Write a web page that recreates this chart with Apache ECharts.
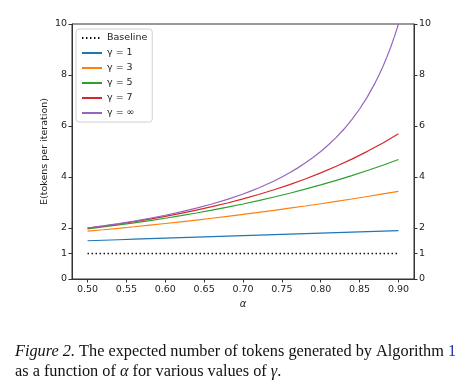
<!DOCTYPE html>
<html>
<head>
<meta charset="utf-8">
<script src="https://cdn.jsdelivr.net/npm/echarts@6/dist/echarts.min.js"></script>
<style>html,body{margin:0;padding:0;background:#fff;}#c{width:474px;height:392px;}</style>
</head>
<body>
<div id="c"></div>
<script>
var alphas = [0.50,0.52,0.54,0.56,0.58,0.60,0.62,0.64,0.66,0.68,0.70,0.72,0.74,0.76,0.78,0.80,0.82,0.84,0.86,0.88,0.90];
var baseline = [1,1,1,1,1,1,1,1,1,1,1,1,1,1,1,1,1,1,1,1,1];
var gamma1 = [1.50,1.52,1.54,1.56,1.58,1.60,1.62,1.64,1.66,1.68,1.70,1.72,1.74,1.76,1.78,1.80,1.82,1.84,1.86,1.88,1.90];
var gamma3 = [1.875,1.931,1.989,2.049,2.112,2.176,2.243,2.312,2.383,2.457,2.533,2.612,2.693,2.777,2.863,2.952,3.044,3.138,3.236,3.336,3.439];
var gamma5 = [1.969,2.042,2.120,2.203,2.290,2.383,2.482,2.587,2.698,2.816,2.941,3.074,3.215,3.364,3.522,3.689,3.867,4.054,4.253,4.463,4.686];
var gamma7 = [1.992,2.072,2.158,2.251,2.350,2.458,2.574,2.700,2.835,2.982,3.141,3.314,3.500,3.703,3.923,4.161,4.420,4.701,5.006,5.336,5.695];
var alphasInf = [0.50,0.52,0.54,0.56,0.58,0.60,0.62,0.64,0.66,0.68,0.70,0.71,0.72,0.73,0.74,0.75,0.76,0.77,0.78,0.79,0.80,0.81,0.82,0.83,0.84,0.85,0.86,0.87,0.875,0.88,0.885,0.89,0.895,0.90];
var gammaInf = [2.000,2.083,2.174,2.273,2.381,2.500,2.632,2.778,2.941,3.125,3.333,3.448,3.571,3.704,3.846,4.000,4.167,4.348,4.545,4.762,5.000,5.263,5.556,5.882,6.250,6.667,7.143,7.692,8.000,8.333,8.696,9.091,9.524,10.000];
var xTicks = [0.50,0.55,0.60,0.65,0.70,0.75,0.80,0.85,0.90];
var yTicks = [0,1,2,4,6,8,10];
var names = ['Baseline','γ = 1','γ = 3','γ = 5','γ = 7','γ = ∞'];
var colors = ['#000000','#1f77b4','#ff7f0e','#2ca02c','#d62728','#9467bd'];
var seriesData = [baseline,gamma1,gamma3,gamma5,gamma7,gammaInf];
var seriesX = [alphas,alphas,alphas,alphas,alphas,alphasInf];

function pairs(xs, arr){ return xs.map(function(a,i){ return [a, arr[i]]; }); }

var txt = '#222';
var fs = 9.5;
var font = 'DejaVu Sans';

function yAxis(pos){
  return {
    type:'value', position:pos, min:0, max:10,
    axisLine:{show:true, lineStyle:{color:'#333', width:1}},
    axisTick:{show:true, length:3.5, customValues:yTicks, lineStyle:{color:'#333'}},
    axisLabel:{customValues:yTicks, color:txt, fontSize:fs, fontFamily:font, margin:5},
    splitLine:{show:false},
    name: pos==='left' ? 'E(tokens per iteration)' : '',
    nameLocation:'middle', nameGap:22, nameRotate:90, nameMoveOverlap:false,
    nameTextStyle:{color:txt, fontSize:fs, fontFamily:font}
  };
}

var series = seriesData.map(function(d,i){
  return {
    name:names[i], type:'line', data:pairs(seriesX[i], d), symbol:'none', silent:true, animation:false,
    lineStyle:{color:colors[i], width: i===0 ? 1.4 : 1.2, type: i===0 ? [1.4,2.6] : 'solid'},
    itemStyle:{color:colors[i]}
  };
});

var option = {
  animation:false,
  grid:{left:72, right:60, top:24, bottom:113, show:true, borderColor:'#333', borderWidth:1},
  xAxis:{
    type:'value', min:0.48, max:0.92,
    axisLine:{show:true, lineStyle:{color:'#333'}},
    axisTick:{show:true, length:3.5, customValues:xTicks, lineStyle:{color:'#333'}},
    axisLabel:{customValues:xTicks, color:txt, fontSize:fs, fontFamily:font, margin:6,
      formatter:function(v){ return v.toFixed(2); }},
    splitLine:{show:false},
    name:'α', nameLocation:'middle', nameGap:20,
    nameTextStyle:{color:txt, fontSize:10, fontFamily:font, fontStyle:'italic'}
  },
  yAxis:[yAxis('left'), yAxis('right')],
  legend:{
    orient:'vertical', left:76, top:29, data:names,
    itemWidth:20, itemHeight:9, itemGap:5,
    padding:[4,5,4,5],
    itemStyle:{opacity:0},
    backgroundColor:'#fff', borderColor:'#d0d0d0', borderWidth:1, borderRadius:3,
    textStyle:{color:txt, fontSize:fs, fontFamily:font},
    selectedMode:false
  },
  series:series,
  graphic:[
    {type:'text', left:15, top:344, style:{
      text:'{i|Figure 2.} The expected number of tokens generated by Algorithm {b|1}',
      font:'16.3px "Liberation Serif"', fill:'#111',
      rich:{i:{fontStyle:'italic', fontFamily:'Liberation Serif', fontSize:16.3, fill:'#111'},
            b:{fontFamily:'Liberation Serif', fontSize:16.3, fill:'#2233aa'}}
    }},
    {type:'text', left:15, top:364, style:{
      text:'as a function of {i|α} for various values of {i|γ}.',
      font:'16.3px "Liberation Serif"', fill:'#111',
      rich:{i:{fontStyle:'italic', fontFamily:'Liberation Serif', fontSize:16.3, fill:'#111'}}
    }}
  ]
};
var chart = echarts.init(document.getElementById('c'));
chart.setOption(option);
</script>
</body>
</html>
